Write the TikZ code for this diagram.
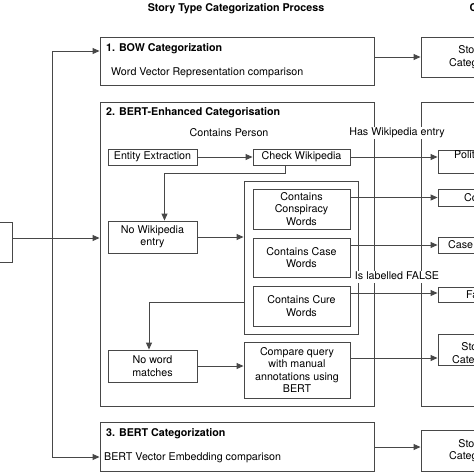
\documentclass[tikz,border=0pt]{standalone}
\usepackage{fontspec}
\setmainfont{TeX Gyre Heros}
\usetikzlibrary{arrows.meta}
\newcommand{\myfs}{\fontsize{10.7}{12.4}\selectfont}
\begin{document}
\begin{tikzpicture}[x=1pt,y=-1pt,
  ln/.style={draw=black!72, line width=0.9pt},
  bx/.style={ln, inner sep=0pt, align=center, font=\myfs},
  arr/.style={ln, -{Triangle[length=7pt,width=6pt]}},
  lbl/.style={inner sep=1pt, font=\myfs, text height=7.7pt, text depth=0pt},
  ttl/.style={lbl, font=\myfs\bfseries},
  wlbl/.style={lbl, fill=white, inner sep=1.5pt, text depth=2pt}]
\useasboundingbox (0,0) rectangle (474,474);
\clip (0,0) rectangle (474,474);

% headings
\node[ttl] (head) at (236,8) {Story Type Categorization Process};
\node[ttl, anchor=west] (headr) at (468.5,8) {Categories};

% source box (cut off at the left)
\node[bx, minimum width=72pt, minimum height=40pt] (src) at (-24,242) {};

% main process boxes
\node[bx, minimum width=274pt, minimum height=48pt] (b1) at (237,61) {};
\node[bx, minimum width=274pt, minimum height=304pt] (b2) at (237,254) {};
\node[bx, minimum width=274pt, minimum height=49pt] (b3) at (237,446.5) {};

\node[ttl, anchor=west] (t1) at (105,48) {1. BOW Categorization};
\node[lbl, anchor=west] (s1) at (110,72) {Word Vector Representation comparison};
\node[ttl, anchor=west] (t2) at (105,112) {2. BERT-Enhanced Categorisation};
\node[ttl, anchor=west] (t3) at (105,433) {3. BERT Categorization};
\node[lbl, anchor=west] (s3) at (103,457) {BERT Vector Embedding comparison};

% inner boxes of section 2
\node[bx, minimum width=89pt, minimum height=16pt] (ee) at (152.5,157) {Entity Extraction};
\node[bx, minimum width=97pt, minimum height=16pt] (cw) at (301.5,157) {Check Wikipedia};
\node[bx, minimum width=89pt, minimum height=32pt] (nw) at (152.5,237) {No Wikipedia\\entry};
\node[bx, minimum width=114pt, minimum height=153pt] (grp) at (301,257.5) {};
\node[bx, minimum width=97pt, minimum height=40pt] (cc) at (301.5,209) {Contains\\Conspiracy\\Words};
\node[bx, minimum width=97pt, minimum height=39pt] (ca) at (301.5,257.5) {Contains Case\\Words};
\node[bx, minimum width=97pt, minimum height=40pt] (cu) at (301.5,306) {Contains Cure\\Words};
\node[bx, minimum width=89pt, minimum height=32pt] (nm) at (152.5,366) {No word\\matches};
\node[bx, minimum width=106pt, minimum height=56pt] (cq) at (297,370) {Compare query\\with manual\\annotations using\\BERT};

% right column
\node[bx, minimum width=100pt, minimum height=40pt] (r1) at (471,57) {Story\\Category};
\node[bx, minimum width=100pt, minimum height=304pt] (rb) at (471,254) {};
\node[bx, minimum width=100pt, minimum height=41pt] (r3) at (471,450.5) {Story\\Category};
\node[bx, minimum width=66pt, minimum height=23pt] (pol) at (471,161.5) {};
\node[lbl, anchor=west] (polt) at (453,155) {Political};
\node[bx, minimum width=66pt, minimum height=17pt] (con) at (471,197.5) {};
\node[lbl, anchor=west] (cont) at (463,197.5) {Conspiracy};
\node[bx, minimum width=66pt, minimum height=16pt] (cas) at (471,245) {};
\node[lbl, anchor=west] (cast) at (447,245) {Case};
\node[bx, minimum width=66pt, minimum height=15pt] (fal) at (471,294.5) {};
\node[lbl, anchor=west] (falt) at (465,294.5) {False};
\node[bx, minimum width=66pt, minimum height=31pt] (sc) at (471,349.5) {};
\node[font=\myfs, align=center, inner sep=0pt] (sct) at (474,354) {Story\\Category};

% connectors on the left
\coordinate (jn) at (52,238);
\coordinate (j1) at (52,51);
\coordinate (j3) at (52,457);
\draw[arr] (jn -| src.east) -- (jn -| b2.west);
\draw[ln] (j1) -- (j3);
\draw[arr] (j1) -- (j1 -| b1.west);
\draw[arr] (j3) -- (j3 -| b3.west);

% process to outputs
\draw[arr] (r1.west -| b1.east) -- (r1.west);
\draw[arr] ([yshift=3.5pt]r3.west -| b3.east) -- ([yshift=3.5pt]r3.west);

% inside section 2
\draw[arr] (ee) -- (cw);
\draw[arr] (cw.east) -- (cw.east -| pol.west);
\draw[arr] ([xshift=-16.5pt]cw.south) -- ++(0,8) -| ([xshift=12pt]nw.north);
\draw[arr] (nw.east) -- (nw.east -| grp.west);
\draw[arr] (con.west -| cc.east) -- (con.west);
\draw[arr] (cas.west -| ca.east) -- (cas.west);
\draw[arr] ([yshift=1.5pt]fal.west -| cu.east) -- ([yshift=1.5pt]fal.west);
\draw[arr] ([yshift=-44.5pt]grp.west) -| ([xshift=-3.5pt]nm.north);
\draw[arr] (nm.east) -- (nm.east -| cq.west);
\draw[arr] ([yshift=12pt]cq.east) -- ([yshift=12pt]cq.east -| sc.west);

% labels
\node[lbl] (lp) at (229,133) {Contains Person};
\node[wlbl] (lw) at (397,133) {Has Wikipedia entry};
\node[wlbl] (lf) at (397,277) {Is labelled FALSE};
\end{tikzpicture}
\end{document}
